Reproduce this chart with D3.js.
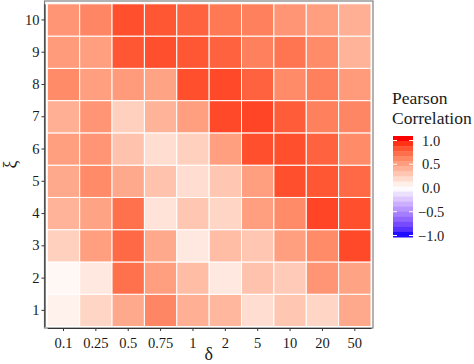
<!DOCTYPE html>
<html>
<head>
<meta charset="utf-8">
<script src="https://cdn.jsdelivr.net/npm/d3@7"></script>
</head>
<body style="margin:0">
<svg id="chart" width="474" height="364" font-family="Liberation Serif">
  <g id="legend-title" font-family="Liberation Serif" font-size="17.5" fill="#1a1a1a">
    <text x="392" y="104">Pearson</text>
    <text x="392" y="124">Correlation</text>
  </g>
</svg>
<script>
// x: delta, y: xi
var deltas = ["0.1", "0.25", "0.5", "0.75", "1", "2", "5", "10", "20", "50"];
var xis = ["1", "2", "3", "4", "5", "6", "7", "8", "9", "10"];

// correlation per xi row (row 1 first), one value per delta
var row1  = [0.07, 0.22, 0.45, 0.62, 0.42, 0.38, 0.18, 0.30, 0.22, 0.45];
var row2  = [0.04, 0.12, 0.72, 0.50, 0.35, 0.12, 0.32, 0.28, 0.55, 0.48];
var row3  = [0.25, 0.50, 0.75, 0.45, 0.12, 0.35, 0.30, 0.50, 0.60, 0.87];
var row4  = [0.40, 0.48, 0.72, 0.15, 0.30, 0.22, 0.50, 0.60, 0.88, 0.85];
var row5  = [0.45, 0.60, 0.45, 0.32, 0.18, 0.30, 0.50, 0.85, 0.82, 0.75];
var row6  = [0.50, 0.55, 0.32, 0.18, 0.25, 0.50, 0.85, 0.85, 0.78, 0.60];
var row7  = [0.42, 0.55, 0.25, 0.40, 0.50, 0.87, 0.88, 0.80, 0.65, 0.62];
var row8  = [0.60, 0.50, 0.52, 0.48, 0.85, 0.87, 0.78, 0.60, 0.65, 0.52];
var row9  = [0.52, 0.50, 0.82, 0.85, 0.82, 0.78, 0.65, 0.70, 0.60, 0.40];
var row10 = [0.55, 0.62, 0.85, 0.82, 0.78, 0.68, 0.65, 0.55, 0.50, 0.42];
var rows = [row1, row2, row3, row4, row5, row6, row7, row8, row9, row10];

var legendTicks = [1, 0.5, 0, -0.5, -1];

var FONT = "Liberation Serif";

var cells = [];
rows.forEach((r, i) => {
  r.forEach((v, j) => {
    cells.push({ xi: xis[i], delta: deltas[j], value: v });
  });
});

var svg = d3.select("#chart");

var panel = { left: 44.5, right: 373, top: 1, bottom: 328 };

var x = d3.scaleBand()
  .domain(deltas)
  .range([47.3, 371]);

var y = d3.scaleBand()
  .domain(xis)
  .range([326.5, 3.8]);

// ggplot-like gradient2: blue - white - red, Lab interpolation
var posColor = d3.interpolateLab("#ffffff", "#ff0000");
var negColor = d3.interpolateLab("#ffffff", "#0000ff");
function fill(v) {
  return v >= 0 ? posColor(v) : negColor(-v);
}

// tiles
svg.append("g")
  .selectAll("rect")
  .data(cells)
  .enter()
  .append("rect")
  .attr("x", d => x(d.delta))
  .attr("y", d => y(d.xi))
  .attr("width", x.bandwidth())
  .attr("height", y.bandwidth())
  .attr("fill", d => fill(d.value))
  .attr("stroke", "#ffffff")
  .attr("stroke-width", 1);

// panel border
svg.append("rect")
  .attr("x", panel.left)
  .attr("y", panel.top)
  .attr("width", panel.right - panel.left)
  .attr("height", panel.bottom - panel.top)
  .attr("fill", "none")
  .attr("stroke", "#808080")
  .attr("stroke-width", 1.2);

// axes
var xAxis = svg.append("g")
  .attr("transform", `translate(0, ${panel.bottom})`)
  .call(d3.axisBottom(x).tickSize(3).tickSizeOuter(0));
var yAxis = svg.append("g")
  .attr("transform", `translate(${panel.left}, 0)`)
  .call(d3.axisLeft(y).tickSize(3).tickSizeOuter(0));

[xAxis, yAxis].forEach(g => {
  g.attr("font-family", FONT).attr("font-size", 14.5);
  g.select(".domain").attr("stroke", "#333").attr("stroke-width", 1.2);
  g.selectAll(".tick line").attr("stroke", "#333");
  g.selectAll(".tick text")
    .attr("fill", "#1a1a1a")
    .attr("font-family", FONT);
});
xAxis.selectAll(".tick text").attr("dy", "0.95em");
yAxis.selectAll(".tick text").attr("x", -5);

// axis titles
svg.append("text")
  .attr("x", (panel.left + panel.right) / 2)
  .attr("y", 360)
  .attr("text-anchor", "middle")
  .attr("font-family", FONT)
  .attr("font-size", 18)
  .attr("fill", "#1a1a1a")
  .text("δ");

svg.append("text")
  .attr("transform", `translate(16, ${(panel.top + panel.bottom) / 2}) rotate(-90)`)
  .attr("text-anchor", "middle")
  .attr("font-family", FONT)
  .attr("font-size", 18)
  .attr("fill", "#1a1a1a")
  .text("ξ");

// legend colourbar
var leg = svg.append("g")
  .attr("font-family", FONT)
  .attr("fill", "#1a1a1a");

var ly = d3.scaleLinear()
  .domain([-1, 1])
  .range([235.5, 140.5]);

var barX = 393, barW = 20, barTop = 136, barBottom = 237;
var nbin = 20;
var bins = d3.range(nbin);
var binH = (barBottom - barTop) / nbin;

leg.append("g")
  .selectAll("rect")
  .data(bins)
  .enter()
  .append("rect")
  .attr("x", barX)
  .attr("y", i => barTop + i * binH)
  .attr("width", barW)
  .attr("height", binH + 0.5)
  .attr("fill", i => fill(Math.max(-1, Math.min(1, ly.invert(barTop + (i + 0.5) * binH)))));

// white tick marks on the bar
[barX, barX + barW - 4].forEach(x0 => {
  leg.append("g")
    .selectAll("line")
    .data(legendTicks)
    .enter()
    .append("line")
    .attr("x1", x0).attr("x2", x0 + 4)
    .attr("y1", d => ly(d)).attr("y2", d => ly(d))
    .attr("stroke", "#fff");
});

leg.append("g")
  .selectAll("text")
  .data(legendTicks)
  .enter()
  .append("text")
  .attr("x", d => d < 0 ? 418 : 422)
  .attr("y", d => ly(d))
  .attr("dy", "0.35em")
  .attr("font-size", 14.5)
  .text(d => d3.format(".1f")(d).replace("-", "\u2212"));
</script>
</body>
</html>
